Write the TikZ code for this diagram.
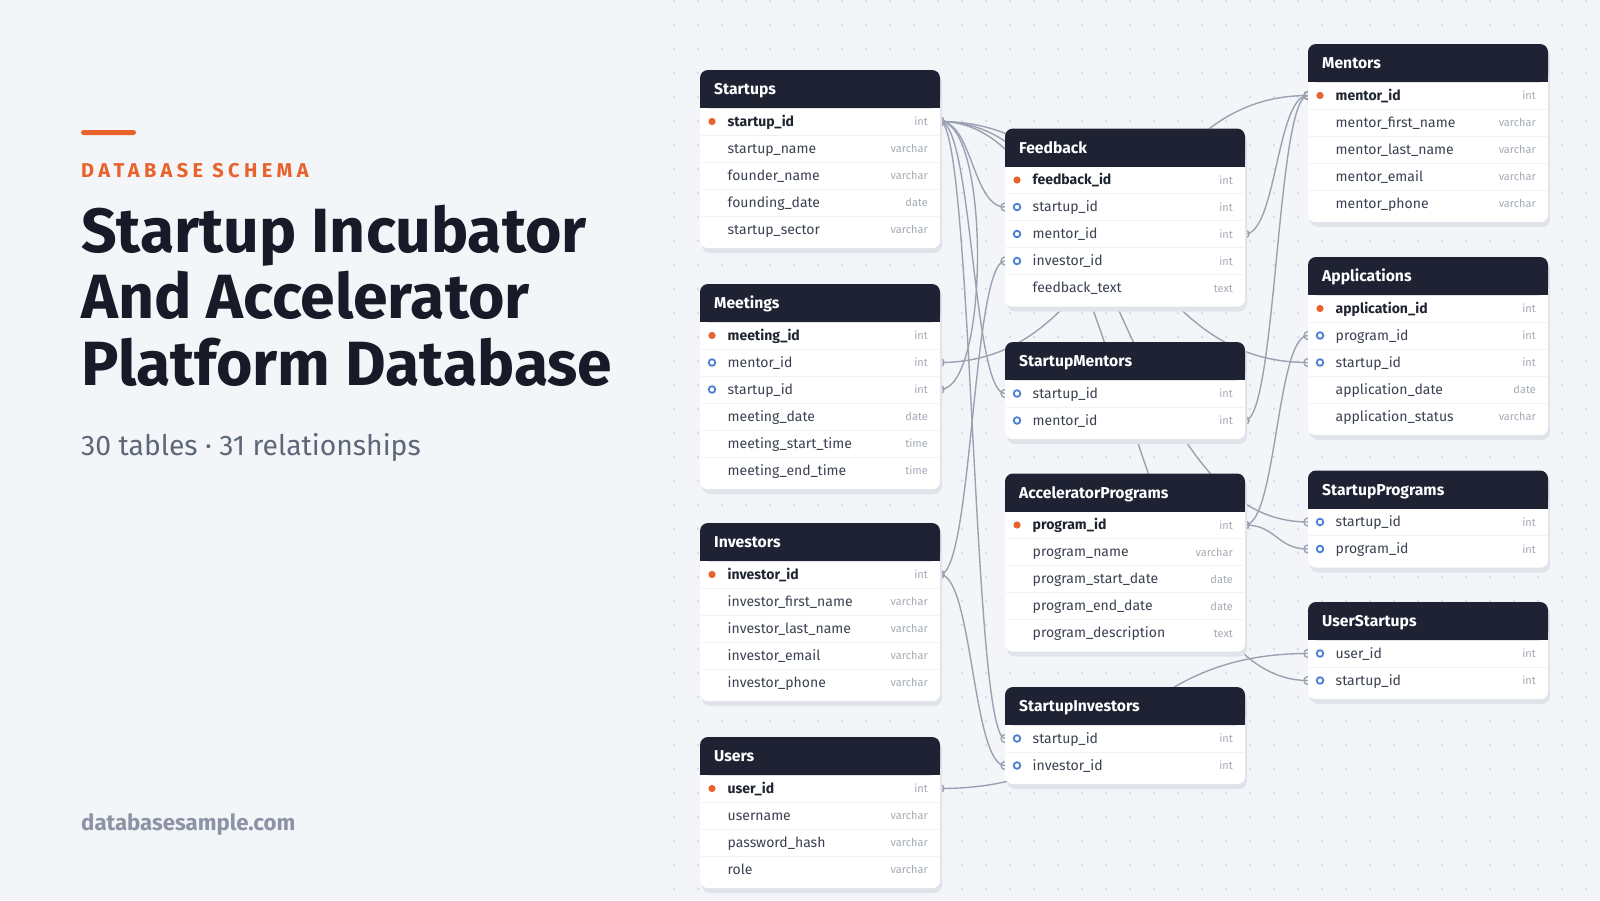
\documentclass[tikz,border=0pt]{standalone}
\usepackage{fontspec}
\setmainfont{Fira Sans}
\usetikzlibrary{calc}
\definecolor{bgc}{HTML}{F3F5F9}
\definecolor{dotc}{HTML}{D8DCE3}
\definecolor{headc}{HTML}{1E2233}
\definecolor{orangec}{HTML}{E8622C}
\definecolor{titlec}{HTML}{161B27}
\definecolor{subc}{HTML}{5E6778}
\definecolor{urlc}{HTML}{8B93A5}
\definecolor{fieldc}{HTML}{3A4150}
\definecolor{pkc}{HTML}{1F2530}
\definecolor{typec}{HTML}{A4AAB5}
\definecolor{linkc}{HTML}{9AA2B1}
\definecolor{fkc}{HTML}{4C80D6}
\definecolor{sepc}{HTML}{EFF1F4}
\definecolor{shadc}{HTML}{E0E4EA}
\pgfdeclarelayer{back}\pgfdeclarelayer{links}\pgfsetlayers{back,links,main}
\tikzset{
 link/.style={draw=linkc, line width=1.4pt},
 card/.style={fill=white, rounded corners=8pt, inner sep=0pt, draw=none},
 fname/.style={anchor=base west, inner sep=0pt, text=fieldc, font=\fontsize{14}{16}\selectfont},
 ftype/.style={anchor=base east, inner sep=0pt, text=typec, font=\fontsize{11}{12}\selectfont},
 htitle/.style={anchor=base west, inner sep=0pt, text=white, font=\bfseries\fontsize{15.7}{17}\selectfont},
 txt/.style={anchor=base west, inner sep=0pt},
}
\newcommand\dbtable[5]{%
  \def\tx{#2}\def\ty{#3}%
  \foreach[count=\n] \dum in {#5} {\xdef\nrows{\n}}%
  \pgfmathsetmacro\tH{38+27*\nrows+5}%
  \fill[shadc, rounded corners=8pt] (\tx+2,\ty+5) rectangle ++(240,\tH);
  \node[card, anchor=north west, minimum width=240pt, minimum height=\tH pt] (#1) at (\tx,\ty) {};
  \fill[headc, rounded corners=8pt] (\tx,\ty) rectangle ++(240,38);
  \fill[headc] (\tx,\ty+20) rectangle ++(240,18);
  \node[htitle] (#1T) at (\tx+14,\ty+24.5) {#4};
  \foreach[count=\i] \fk/\fn/\fy in {#5} {
    \pgfmathsetmacro\yc{\ty+38+27*\i-13.5}
    \ifnum\i<\nrows \draw[sepc, line width=0.8pt] (\tx+1,\yc+13.5) -- ++(238,0); \fi
    \if\fk p \fill[orangec] (\tx+12,\yc) circle (3.6pt); \fi
    \if\fk f \draw[fkc, line width=1.8pt] (\tx+12,\yc) circle (3.3pt); \fi
    \if\fk p \def\ffont{\bfseries\color{pkc}}\else\def\ffont{}\fi
    \node[fname] (#1F\i) at (\tx+27.5,\yc+4.8) {\ffont\fn};
    \node[ftype] (#1Y\i) at (\tx+228,\yc+4) {\fy};
    \coordinate (#1L\i) at (\tx,\yc);
    \coordinate (#1R\i) at (\tx+240,\yc);
  }
}
\newcommand\lnk[2]{%
  \path ($(#1)!0.5!(#2)$) coordinate (lm);
  \draw[link] (#1) .. controls (lm |- #1) and (lm |- #2) .. (#2);
  \draw[link] (#1) circle (4pt);
  \draw[link] (#2) circle (4pt);
}
\begin{document}
\begin{tikzpicture}[x=1pt,y=-1pt]
\useasboundingbox (0,0) rectangle (1600,900);
\begin{pgfonlayer}{back}
\fill[bgc] (0,0) rectangle (1600,900);
\foreach \x in {674,698,...,1598} \foreach \y in {1,25,...,899} \fill[dotc] (\x,\y) circle (1.3pt);
\end{pgfonlayer}
% left panel
\fill[orangec, rounded corners=2.5pt] (81,130) rectangle (136,135);
\node[txt, text=orangec, font=\bfseries\fontsize{20}{22}\selectfont\addfontfeatures{LetterSpace=22}] (kicker) at (81,177.5) {DATABASE SCHEMA};
\node[txt, text=titlec, font=\bfseries\fontsize{62.5}{66}\selectfont] (title1) at (81,252) {Startup Incubator};
\node[txt, text=titlec, font=\bfseries\fontsize{62.5}{66}\selectfont] (title2) at (81,318.5) {And Accelerator};
\node[txt, text=titlec, font=\bfseries\fontsize{62.5}{66}\selectfont] (title3) at (81,385.5) {Platform Database};
\node[txt, text=subc, font=\fontsize{28.3}{31}\selectfont] (sub) at (81,455) {30 tables · 31 relationships};
\node[txt, text=urlc, font=\bfseries\fontsize{22.2}{25}\selectfont] (url) at (81,830.5) {databasesample.com};
% tables
\dbtable{startups}{700}{70}{Startups}{p/startup\_id/int, n/startup\_name/varchar, n/founder\_name/varchar, n/founding\_date/date, n/startup\_sector/varchar}
\dbtable{meetings}{700}{284}{Meetings}{p/meeting\_id/int, f/mentor\_id/int, f/startup\_id/int, n/meeting\_date/date, n/meeting\_start\_time/time, n/meeting\_end\_time/time}
\dbtable{investors}{700}{523}{Investors}{p/investor\_id/int, n/investor\_first\_name/varchar, n/investor\_last\_name/varchar, n/investor\_email/varchar, n/investor\_phone/varchar}
\dbtable{users}{700}{737}{Users}{p/user\_id/int, n/username/varchar, n/password\_hash/varchar, n/role/varchar}
\dbtable{feedback}{1005}{128.5}{Feedback}{p/feedback\_id/int, f/startup\_id/int, f/mentor\_id/int, f/investor\_id/int, n/feedback\_text/text}
\dbtable{smentors}{1005}{342}{StartupMentors}{f/startup\_id/int, f/mentor\_id/int}
\dbtable{programs}{1005}{473.5}{AcceleratorPrograms}{p/program\_id/int, n/program\_name/varchar, n/program\_start\_date/date, n/program\_end\_date/date, n/program\_description/text}
\dbtable{sinvestors}{1005}{687}{StartupInvestors}{f/startup\_id/int, f/investor\_id/int}
\dbtable{mentors}{1308}{44}{Mentors}{p/mentor\_id/int, n/mentor\_first\_name/varchar, n/mentor\_last\_name/varchar, n/mentor\_email/varchar, n/mentor\_phone/varchar}
\dbtable{applications}{1308}{257}{Applications}{p/application\_id/int, f/program\_id/int, f/startup\_id/int, n/application\_date/date, n/application\_status/varchar}
\dbtable{sprograms}{1308}{470.5}{StartupPrograms}{f/startup\_id/int, f/program\_id/int}
\dbtable{ustartups}{1308}{602}{UserStartups}{f/user\_id/int, f/startup\_id/int}
% links
\begin{pgfonlayer}{links}
\lnk{feedbackL2}{startupsR1}
\lnk{feedbackR3}{mentorsL1}
\lnk{feedbackL4}{investorsR1}
\lnk{meetingsR2}{mentorsL1}
\draw[link] (meetingsR3) .. controls +(50,0) and +(50,0) .. (startupsR1);
\draw[link] (meetingsR3) circle (4pt);
\lnk{smentorsL1}{startupsR1}
\lnk{smentorsR2}{mentorsL1}
\lnk{applicationsL2}{programsR1}
\lnk{applicationsL3}{startupsR1}
\lnk{sprogramsL1}{startupsR1}
\lnk{sprogramsL2}{programsR1}
\lnk{ustartupsL1}{usersR1}
\lnk{ustartupsL2}{startupsR1}
\lnk{sinvestorsL1}{startupsR1}
\lnk{sinvestorsL2}{investorsR1}
\end{pgfonlayer}
\end{tikzpicture}
\end{document}
